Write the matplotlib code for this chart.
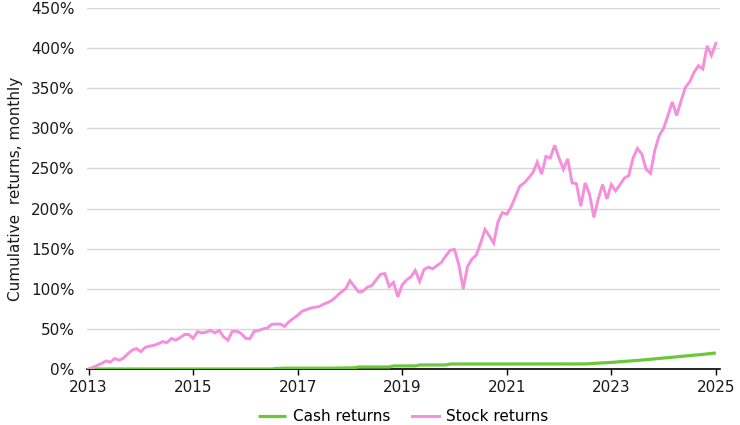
import numpy as np
import matplotlib
matplotlib.use("Agg")
import matplotlib.pyplot as plt
from matplotlib.ticker import FuncFormatter


# ----------------------------------------------------------
# Data (monthly, Jan 2013 .. Jan 2025), cumulative returns in %
# ----------------------------------------------------------

start_year = 2013

stock_returns = [
    0, 2, 4.5, 7, 10, 8.5, 13, 11, 13.5, 19, 23.5, 25.5,            # 2013
    21.5, 27, 28.5, 29.5, 31.5, 34, 33, 38, 36, 39, 43, 43,         # 2014
    38, 46.5, 45, 46, 48, 45, 48, 40, 36, 47, 47, 44.5,             # 2015
    38.5, 37.5, 47, 48, 50, 51, 55.5, 56, 56, 53, 59, 63,           # 2016
    67, 72, 74, 76, 77, 78, 81, 83, 86, 91, 96, 100,                # 2017
    110, 103, 96, 97, 102, 104, 111, 118, 119, 103, 108, 90,        # 2018
    105, 111, 115, 123, 109, 124, 127, 125, 129, 133, 141, 148,     # 2019
    149, 130, 100, 128, 137, 142, 157, 174, 166, 157, 184, 195,     # 2020
    193, 202, 215, 228, 232, 238, 245, 258, 243, 265, 263, 279,     # 2021
    263, 249, 262, 232, 231, 203, 232, 218, 189, 212, 230, 212,     # 2022
    230, 222, 230, 238, 241, 263, 275, 268, 249, 244, 273, 291,     # 2023
    300, 316, 333, 316, 334, 351, 358, 370, 378, 374, 403, 391,     # 2024
    406,                                                            # 2025
]

cash_returns = [
    0, 0, 0, 0, 0, 0, 0, 0, 0, 0, 0, 0,                             # 2013
    0, 0, 0, 0, 0, 0, 0, 0, 0, 0, 0, 0,                             # 2014
    0, 0, 0, 0, 0, 0, 0, 0, 0, 0, 0, 0,                             # 2015
    0, 0, 0, 0, 0, 0, 0, 0.5, 0.8, 1, 1, 1,                         # 2016
    1, 1, 1, 1, 1, 1, 1, 1, 1, 1.2, 1.2, 1.2,                       # 2017
    1.3, 1.5, 2.5, 2.5, 2.5, 2.5, 2.5, 2.5, 2.5, 2.5, 3.8, 3.8,     # 2018
    3.8, 3.8, 3.8, 3.8, 5, 5, 5, 5, 5, 5, 5, 6.2,                   # 2019
    6.2, 6.2, 6.2, 6.2, 6.2, 6.2, 6.2, 6.2, 6.2, 6.2, 6.2, 6.2,     # 2020
    6.2, 6.2, 6.2, 6.2, 6.2, 6.2, 6.2, 6.2, 6.2, 6.2, 6.2, 6.2,     # 2021
    6.2, 6.2, 6.2, 6.2, 6.2, 6.2, 6.3, 6.6, 7, 7.3, 7.6, 7.9,       # 2022
    8.2, 8.6, 9, 9.4, 9.8, 10.2, 10.7, 11.1, 11.6, 12.1, 12.6, 13.1, # 2023
    13.5, 14, 14.5, 15, 15.5, 16, 16.5, 17, 17.6, 18.2, 18.8, 19.4, # 2024
    20,                                                             # 2025
]

year_ticks = [2013, 2015, 2017, 2019, 2021, 2023, 2025]
pct_ticks = [0, 50, 100, 150, 200, 250, 300, 350, 400, 450]

months = np.arange(len(stock_returns))
dates = start_year + months / 12.0

# ----------------------------------------------------------
# Plot
# ----------------------------------------------------------

plt.rcParams["font.family"] = ["DejaVu Sans"]

fig = plt.figure(figsize=(7.4, 4.25), dpi=100)
ax = fig.add_axes([0.1176, 0.1318, 0.8554, 0.8492])

ax.plot(dates, cash_returns, color="#6cc83a", lw=2.3,
        label="Cash returns", zorder=3, solid_capstyle="butt")
ax.plot(dates, stock_returns, color="#f58edd", lw=2.1,
        label="Stock returns", zorder=4, solid_joinstyle="miter")

ax.set_xlim(2012.97, 2025.08)
ax.set_ylim(0, 450)

ax.set_xticks(year_ticks)
ax.set_xticklabels([str(y) for y in year_ticks])
ax.set_yticks(pct_ticks)
ax.yaxis.set_major_formatter(FuncFormatter(lambda v, p: f"{v:.0f}%"))

ax.grid(axis="y", color="#d6d6d6", lw=1.0)
ax.set_axisbelow(True)

for side in ["top", "right", "left"]:
    ax.spines[side].set_visible(False)
ax.spines["bottom"].set_color("black")
ax.spines["bottom"].set_linewidth(1.2)
ax.spines["bottom"].set_zorder(2)

ax.tick_params(axis="y", length=0, pad=9, labelsize=11, labelcolor="#1a1a1a")
ax.tick_params(axis="x", length=4, width=1, pad=4, labelsize=11,
               labelcolor="#1a1a1a", direction="out")

ax.set_ylabel("Cumulative  returns, monthly", fontsize=11, color="#1a1a1a",
              labelpad=6)

fig.legend(loc="lower center", bbox_to_anchor=(0.545, -0.03), ncol=2,
           frameon=False, fontsize=11, handlelength=1.8, columnspacing=1.4,
           handletextpad=0.45)

fig.savefig("out.png", dpi=100)
